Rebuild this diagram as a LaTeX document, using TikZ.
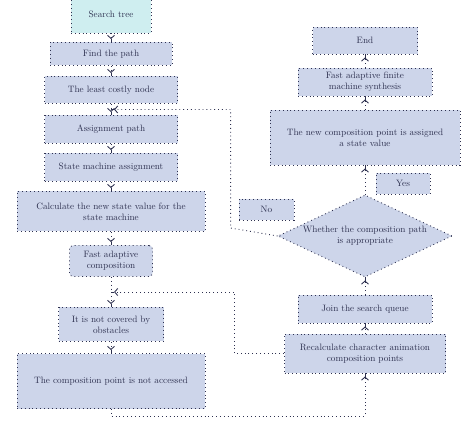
\documentclass[tikz,border=0pt]{standalone}
\usepackage{tikz}
\usetikzlibrary{arrows.meta,shapes.geometric,calc}

\definecolor{boxfill}{HTML}{CDD5EA}
\definecolor{treefill}{HTML}{CFEEF0}
\definecolor{ink}{HTML}{2E3150}

\begin{document}
\begin{tikzpicture}[node distance={1.55cm}, font=\fontsize{10.5}{12.5}\selectfont,
  dots/.style = {line width=1pt, dash pattern=on 1pt off 3.4pt, draw=ink},
  box/.style = {dots, fill=boxfill, text=ink, align=center, inner sep=2pt},
  link/.style = {dots, -{Straight Barb[length=3.5pt,width=8pt,sep=0pt] Rectangle[length=3.5pt,width=0.9pt,sep=0pt]}}]
\useasboundingbox (0,0) rectangle (18.96,-17.36);
% left column
\node[box, fill=treefill, minimum width=3.2cm, minimum height=1.48cm] (search) at (4.44,-0.58) {Search tree};
\node[box, minimum width=4.88cm, minimum height=0.92cm] (path) [below of=search, node distance=1.58cm] {Find the path};
\node[box, minimum width=5.32cm, minimum height=1.08cm] (least) [below of=path, node distance=1.44cm] {The least costly node};
\node[box, minimum width=5.32cm, minimum height=1.12cm] (assign) [below of=least, node distance=1.58cm] {Assignment path};
\node[box, minimum width=5.32cm, minimum height=1.12cm] (sma) [below of=assign, node distance=1.52cm] {State machine assignment};
\node[box, minimum width=7.52cm, minimum height=1.6cm] (calc) [below of=sma, node distance=1.76cm] {Calculate the new state value for the\\ state machine};
\node[box, rounded corners=4pt, minimum width=3.32cm, minimum height=1.24cm] (fac) [below of=calc, node distance=1.98cm] {Fast adaptive\\ composition};
\node[box, minimum width=4.2cm, minimum height=1.36cm] (cover) [below of=fac, node distance=2.54cm] {It is not covered by\\ obstacles};
\node[box, minimum width=7.52cm, minimum height=2.2cm] (notacc) [below of=cover, node distance=2.26cm] {The composition point is not accessed};
% right column
\node[box, minimum width=6.44cm, minimum height=1.56cm] (recalc) at (14.6,-14.14) {Recalculate character animation\\ composition points};
\node[box, minimum width=5.36cm, minimum height=1.12cm] (queue) [above of=recalc, node distance=1.78cm] {Join the search queue};
\node[diamond, dots, fill=boxfill, text=ink, align=center, inner sep=0pt, aspect=2.1,
  minimum width=6.96cm, minimum height=3.28cm] (fit) [above of=queue, node distance=2.92cm] {Whether the composition path\\ is appropriate};
\node[box, minimum width=7.6cm, minimum height=2.2cm] (newcp) [above of=fit, node distance=3.94cm] {The new composition point is assigned\\ a state value};
\node[box, minimum width=5.36cm, minimum height=1.12cm] (synth) [above of=newcp, node distance=2.22cm] {Fast adaptive finite\\ machine synthesis};
\node[box, minimum width=4.2cm, minimum height=1.08cm] (end) [above of=synth, node distance=1.66cm] {End};
\node[box, minimum width=2.16cm, minimum height=0.84cm] (yes) at (16.12,-7.34) {Yes};
\node[box, minimum width=2.2cm, minimum height=0.84cm] (no) at (10.66,-8.38) {No};
% junctions on the left column
\coordinate (j1) at ($(least.south)!0.5!(assign.north)$);
\coordinate (j2) at ($(fac.south)!0.5!(cover.north)$);
\draw[link] (search) -- (path);
\draw[link] (path) -- (least);
\draw[link] (least) -- (assign);
\draw[link] (assign) -- (sma);
\draw[link] (sma) -- (calc);
\draw[link] (calc) -- (fac);
\draw[link] (fac) -- (cover);
\draw[link] (cover) -- (notacc);
\draw[link] (notacc.south) -- ++(0,-0.28cm) -| (recalc.south);
\draw[link] (recalc) -- (queue);
\draw[link] (queue) -- (fit);
\draw[link] (fit) -- (newcp);
\draw[link] (newcp) -- (synth);
\draw[link] (synth) -- (end);
\draw[link] (recalc.west) -- ++(-2cm,0) |- (j2);
\draw[link] (fit.west) -- ++(-1.88cm,0.32cm) |- (j1);
\end{tikzpicture}
\end{document}
